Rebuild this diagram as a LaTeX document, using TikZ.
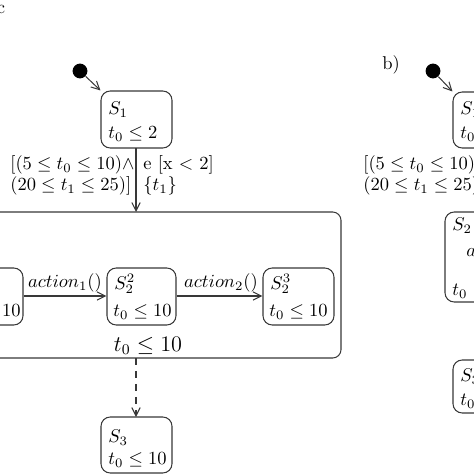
\documentclass[tikz,border=0pt]{standalone}
\usetikzlibrary{arrows.meta,fit}
\colorlet{ln}{black!78}
\tikzset{
  stbox/.style={draw=ln, line width=0.55pt, rounded corners=5pt, inner sep=0pt},
  supbox/.style={draw=ln, line width=0.55pt, rounded corners=4.5pt, inner sep=0pt},
  lbl/.style={inner sep=0pt, anchor=west},
  trans/.style={draw=ln, line width=0.55pt, -{Straight Barb[length=4.5pt,width=4.5pt]}},
  initdot/.style={circle, fill=black, minimum size=8pt, inner sep=0pt},
}
\begin{document}
\begin{tikzpicture}[x=0.54pt,y=-0.54pt]
\useasboundingbox (0,0) rectangle (474,474);
\clip (0,0) rectangle (474,474);

% ---------------- left figure ----------------
\node[inner sep=0pt] (clab) at (1,9) {c};
\node[initdot] (init) at (80,71) {};
\node[stbox, fit={(101,91) (172,148)}] (s1) {};
\node[lbl] (s1a) at (108,110) {$S_1$};
\node[lbl] (s1b) at (108,134) {$t_0 \leq 2$};

\node[supbox, fit={(-20,212) (341,358)}] (sup) {};
\node[stbox, fit={(-50,268) (23,325)}] (s21) {};
\node[lbl] (s21a) at (-43,284) {$S_2^1$};
\node[lbl] (s21b) at (-38,312) {$t_0 \leq 10$};
\node[stbox, fit={(107,268) (176,325)}] (s22) {};
\node[lbl] (s22a) at (114,284) {$S_2^2$};
\node[lbl] (s22b) at (113,312) {$t_0 \leq 10$};
\node[stbox, fit={(263,268) (334,325)}] (s23) {};
\node[lbl] (s23a) at (270,284) {$S_2^3$};
\node[lbl] (s23b) at (269,312) {$t_0 \leq 10$};
\node[inner sep=0pt] (supl) at (148,346) {\large $t_0 \leq 10$};

\node[stbox, fit={(101,417) (172,473)}] (s3) {};
\node[lbl] (s3a) at (108,438) {$S_3$};
\node[lbl] (s3b) at (108,460) {$t_0 \leq 10$};

\coordinate (s1bot) at (136,148);
\coordinate (suptop) at (136,212);
\coordinate (supbot) at (136,358);
\coordinate (s3top) at (136,417);

\draw[trans] (init) -- (s1.north west);
\draw[trans] (s1bot) -- (suptop);
\draw[trans] (s21.east |- 0,296) -- (s22.west |- 0,296);
\draw[trans] (s22.east |- 0,296) -- (s23.west |- 0,296);
\draw[trans, dash pattern=on 4pt off 3pt] (supbot) -- (s3top);

\node[inner sep=0pt] (a1) at (65,283) {$action_1()$};
\node[inner sep=0pt] (a2) at (221,283) {$action_2()$};
\node[lbl] (g1) at (10,165) {$[(5 \leq t_0 \leq 10)\wedge$};
\node[lbl] (g2) at (10,186) {$(20 \leq t_1 \leq 25)]$};
\node[lbl] (e1) at (143,165) {e [x < 2]};
\node[lbl] (e2) at (143,186) {$\{t_1\}$};

% ---------------- right figure ----------------
\node[inner sep=0pt] (blab) at (391,65) {b)};
\node[initdot] (initr) at (433,71) {};
\node[stbox, fit={(453,92) (524,148)}] (r1) {};
\node[lbl] (r1a) at (460,110) {$S_1$};
\node[lbl] (r1b) at (460,134) {$t_0 \leq 2$};
\draw[trans] (initr) -- (r1.north west);

\node[lbl] (rg1) at (363,165) {$[(5 \leq t_0 \leq 10)\wedge$};
\node[lbl] (rg2) at (363,186) {$(20 \leq t_1 \leq 25)]$};

\node[stbox, fit={(445,212) (560,302)}] (r2) {};
\node[lbl] (r2a) at (452,226) {$S_2$};
\node[lbl] (r2b) at (466,252) {$action_1()$};
\node[lbl] (r2c) at (452,291) {$t_0 \leq 10$};

\node[stbox, fit={(453,360) (524,413)}] (r3) {};
\node[lbl] (r3a) at (460,377) {$S_3$};
\node[lbl] (r3b) at (460,401) {$t_0 \leq 10$};
\end{tikzpicture}
\end{document}
